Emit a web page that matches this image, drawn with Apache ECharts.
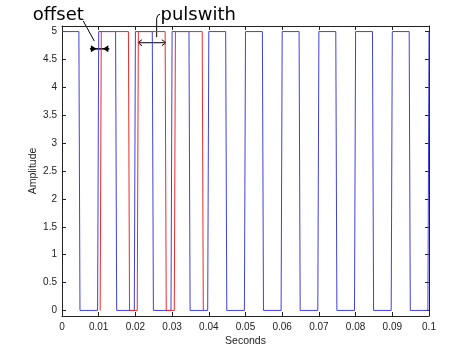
<!DOCTYPE html>
<html>
<head>
<meta charset="utf-8">
<script src="https://cdn.jsdelivr.net/npm/echarts@6/dist/echarts.min.js"></script>
<style>
  html, body { margin: 0; padding: 0; background: #fff; }
  #chart { width: 474px; height: 355px; }
</style>
</head>
<body>
<div id="chart"></div>
<script>
  // blue square wave: sample times and levels (each edge spans ~1 sample)
  const blueT = [0, 0.0046, 0.0049, 0.0097, 0.0100, 0.0146, 0.0149, 0.0197, 0.0200,
    0.0246, 0.0249, 0.0297, 0.0300, 0.0346, 0.0349, 0.0397, 0.0400,
    0.0446, 0.0449, 0.0497, 0.0500, 0.0546, 0.0549, 0.0597, 0.0600,
    0.0646, 0.0649, 0.0697, 0.0700, 0.0746, 0.0749, 0.0797, 0.0800,
    0.0846, 0.0849, 0.0897, 0.0900, 0.0946, 0.0949, 0.0997, 0.1000]
  const blueV = [5, 5, 0, 0, 5, 5, 0, 0, 5, 5, 0, 0, 5, 5, 0, 0, 5, 5, 0, 0, 5,
    5, 0, 0, 5, 5, 0, 0, 5, 5, 0, 0, 5, 5, 0, 0, 5, 5, 0, 0, 5]
  // red pulses (delayed by offset)
  const redT = [0.0104, 0.0107, 0.0181, 0.0184, 0.0205, 0.0208, 0.0281, 0.0284,
    0.0306, 0.0309, 0.0382, 0.0385]
  const redV = [0, 5, 5, 0, 0, 5, 5, 0, 0, 5, 5, 0]

  const xTicks = [0, 0.01, 0.02, 0.03, 0.04, 0.05, 0.06, 0.07, 0.08, 0.09, 0.1]
  const xTickLabels = ['0', '0.01', '0.02', '0.03', '0.04', '0.05', '0.06', '0.07', '0.08', '0.09', '0.1']
  const yTicks = [0, 0.5, 1, 1.5, 2, 2.5, 3, 3.5, 4, 4.5, 5]
  const yTickLabels = ['0', '0.5', '1', '1.5', '2', '2.5', '3', '3.5', '4', '4.5', '5']

  // annotation anchors in data units
  const offsetArrow = { y: 4.69, x0: 0.0076, tipL: 0.0094, tipR: 0.0112, x1: 0.0129 }
  const offsetLeader = [[0.0058, 5.19], [0.0088, 4.83]]
  const pulsArrow = { y: 4.80, x0: 0.0207, x1: 0.0283 }
  const pulsLeader = [[0.0258, 4.90], [0.0258, 5.24], [0.0261, 5.29], [0.0267, 5.31]]

  const axisColor = '#222'
  const labelFont = 'Liberation Sans, Arial, sans-serif'

  function pairs(t, v) {
    return t.map((x, i) => [x, v[i]])
  }

  const chart = echarts.init(document.getElementById('chart'), null, { renderer: 'canvas' })

  const baseX = {
    type: 'value', min: 0, max: 0.1,
    axisLine: { show: true, onZero: false, lineStyle: { color: axisColor, width: 1 } },
    axisTick: { show: true, inside: true, length: 4, customValues: xTicks, lineStyle: { color: axisColor } },
    splitLine: { show: false }
  }
  const baseY = {
    type: 'value', min: -0.1, max: 5.1,
    axisLine: { show: true, onZero: false, lineStyle: { color: axisColor, width: 1 } },
    axisTick: { show: true, inside: true, length: 4, customValues: yTicks, lineStyle: { color: axisColor } },
    splitLine: { show: false }
  }

  const option = {
    animation: false,
    backgroundColor: '#fff',
    grid: { left: 62, right: 45, top: 26, bottom: 39 },
    xAxis: [
      Object.assign({}, baseX, {
        position: 'bottom',
        name: 'Seconds', nameLocation: 'middle', nameGap: 20, nameMoveOverlap: false,
        nameTextStyle: { fontFamily: labelFont, fontSize: 10.5, color: axisColor },
        axisLabel: {
          customValues: xTicks, margin: 6, fontFamily: labelFont, fontSize: 10, color: axisColor,
          formatter: v => xTickLabels[xTicks.findIndex(t => Math.abs(t - v) < 1e-9)]
        }
      }),
      Object.assign({}, baseX, { position: 'top', axisLabel: { show: false } })
    ],
    yAxis: [
      Object.assign({}, baseY, {
        position: 'left',
        name: 'Amplitude', nameLocation: 'middle', nameGap: 23, nameMoveOverlap: false,
        nameTextStyle: { fontFamily: labelFont, fontSize: 10.5, color: axisColor },
        axisLabel: {
          customValues: yTicks, margin: 5, fontFamily: labelFont, fontSize: 10, color: axisColor,
          formatter: v => yTickLabels[yTicks.findIndex(t => Math.abs(t - v) < 1e-9)]
        }
      }),
      Object.assign({}, baseY, { position: 'right', axisLabel: { show: false } })
    ],
    series: [
      {
        type: 'line', data: pairs(blueT, blueV), showSymbol: false, symbol: 'none',
        lineStyle: { color: '#4040e0', width: 1 }, clip: true
      },
      {
        type: 'line', data: pairs(redT, redV), showSymbol: false, symbol: 'none',
        lineStyle: { color: '#ee2a2a', width: 1 }, clip: true
      }
    ]
  }
  chart.setOption(option)

  // annotations, placed from data units
  const px = p => chart.convertToPixel({ xAxisIndex: 0, yAxisIndex: 0 }, p)
  const g = []
  const black = '#000'
  const annFont = '18px "DejaVu Sans", sans-serif'

  // offset: leader + inward filled arrow heads
  const ol0 = px(offsetLeader[0]), ol1 = px(offsetLeader[1])
  g.push({ type: 'line', shape: { x1: ol0[0], y1: ol0[1], x2: ol1[0], y2: ol1[1] }, style: { stroke: black, lineWidth: 1 } })
  const oa0 = px([offsetArrow.x0, offsetArrow.y]), oa1 = px([offsetArrow.x1, offsetArrow.y])
  const otl = px([offsetArrow.tipL, offsetArrow.y]), otr = px([offsetArrow.tipR, offsetArrow.y])
  g.push({ type: 'line', shape: { x1: oa0[0], y1: oa0[1], x2: oa1[0], y2: oa1[1] }, style: { stroke: black, lineWidth: 1.5 } })
  g.push({ type: 'polygon', shape: { points: [[oa0[0] + 1, oa0[1] - 3.5], [otl[0], otl[1]], [oa0[0] + 1, oa0[1] + 3.5]] }, style: { fill: black } })
  g.push({ type: 'polygon', shape: { points: [[oa1[0] - 1, oa1[1] - 3.5], [otr[0], otr[1]], [oa1[0] - 1, oa1[1] + 3.5]] }, style: { fill: black } })
  g.push({ type: 'text', style: { text: 'offset', x: ol0[0] + 0.5, y: ol0[1] + 3, textAlign: 'right', textVerticalAlign: 'bottom', font: annFont, fill: black } })

  // pulswith: hooked leader + outward open arrow heads
  const pl = pulsLeader.map(px)
  g.push({ type: 'polyline', shape: { points: pl }, style: { stroke: black, lineWidth: 1, fill: null } })
  const pa0 = px([pulsArrow.x0, pulsArrow.y]), pa1 = px([pulsArrow.x1, pulsArrow.y])
  g.push({ type: 'line', shape: { x1: pa0[0], y1: pa0[1], x2: pa1[0], y2: pa1[1] }, style: { stroke: black, lineWidth: 1 } })
  g.push({ type: 'polyline', shape: { points: [[pa0[0] + 4, pa0[1] - 3], [pa0[0], pa0[1]], [pa0[0] + 4, pa0[1] + 3]] }, style: { stroke: black, lineWidth: 1, fill: null } })
  g.push({ type: 'polyline', shape: { points: [[pa1[0] - 4, pa1[1] - 3], [pa1[0], pa1[1]], [pa1[0] - 4, pa1[1] + 3]] }, style: { stroke: black, lineWidth: 1, fill: null } })
  const plEnd = pl[pl.length - 1]
  g.push({ type: 'text', style: { text: 'pulswith', x: plEnd[0] + 0.5, y: plEnd[1] + 10, textAlign: 'left', textVerticalAlign: 'bottom', font: annFont, fill: black } })

  chart.setOption({ graphic: g })
</script>
</body>
</html>
